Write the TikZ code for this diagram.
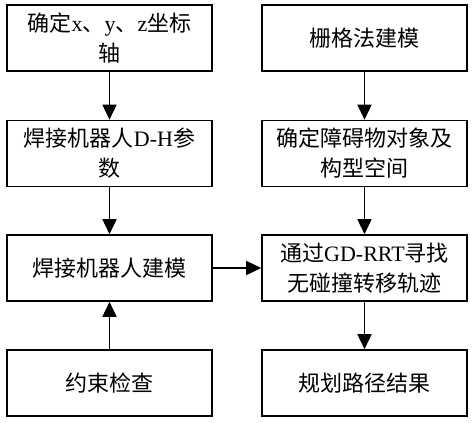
\documentclass[tikz,border=0pt]{standalone}
\usepackage{fontspec}
\setmainfont{Liberation Serif}
\newfontfamily\cjk{Noto Sans CJK SC}
\usetikzlibrary{arrows.meta}
\begin{document}
\begin{tikzpicture}[x=1pt,y=-1pt,
  stepbox/.style={draw,line width=1.6pt,minimum width=205pt,minimum height=66pt,
    align=center,inner sep=0pt,font=\fontsize{22}{30}\selectfont},
  conn/.style={line width=1.6pt,-{Triangle[length=15pt,width=14pt]}}]
\useasboundingbox (0,0) rectangle (474,423);
\node[stepbox] (l1) at (109.5,38) {{\cjk 确定}x{\cjk 、}y{\cjk 、}z{\cjk 坐标}\\{\cjk 轴}};
\node[stepbox] (l2) at (109.5,153.5) {{\cjk 焊接机器人}D-H{\cjk 参}\\{\cjk 数}};
\node[stepbox] (l3) at (109.5,268) {{\cjk 焊接机器人建模}};
\node[stepbox] (l4) at (109.5,383) {{\cjk 约束检查}};
\node[stepbox] (r1) at (364.5,38) {{\cjk 栅格法建模}};
\node[stepbox] (r2) at (364.5,153.5) {{\cjk 确定障碍物对象及}\\{\cjk 构型空间}};
\node[stepbox] (r3) at (364.5,268) {{\cjk 通过}GD-RRT{\cjk 寻找}\\{\cjk 无碰撞转移轨迹}};
\node[stepbox] (r4) at (364.5,383) {{\cjk 规划路径结果}};
\draw[conn] (l1) -- (l2);
\draw[conn] (l2) -- (l3);
\draw[conn] (l4) -- (l3);
\draw[conn] (r1) -- (r2);
\draw[conn] (r2) -- (r3);
\draw[conn] (r3) -- (r4);
\draw[conn] (l3) -- (r3);
\end{tikzpicture}
\end{document}
